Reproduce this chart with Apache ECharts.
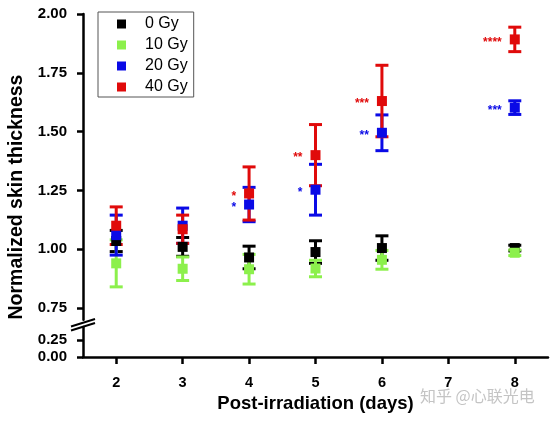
<!DOCTYPE html>
<html>
<head>
<meta charset="utf-8">
<script src="https://cdn.jsdelivr.net/npm/echarts@6/dist/echarts.min.js"></script>
<style>
html,body{margin:0;padding:0;background:#fff;}
#chart{width:554px;height:421px;}
</style>
</head>
<body>
<div id="chart"></div>
<script>
// ---- data ----
const days = [2, 3, 4, 5, 6, 8];
const xTicks = [2, 3, 4, 5, 6, 7, 8];
const yTicksUpper = [0.75, 1.00, 1.25, 1.50, 1.75, 2.00];
const yTicksLower = [0.00, 0.25];

const gy0Mean  = [1.035, 1.010, 0.965, 0.988, 1.005, 1.005];
const gy0Err   = [0.045, 0.040, 0.048, 0.048, 0.052, 0.012];
const gy10Mean = [0.940, 0.917, 0.915, 0.918, 0.955, 0.985];
const gy10Err  = [0.100, 0.050, 0.063, 0.035, 0.040, 0.012];
const gy20Mean = [1.060, 1.100, 1.190, 1.253, 1.495, 1.602];
const gy20Err  = [0.085, 0.075, 0.073, 0.108, 0.076, 0.029];
const gy40Mean = [1.100, 1.085, 1.237, 1.400, 1.630, 1.892];
const gy40Err  = [0.080, 0.060, 0.113, 0.130, 0.152, 0.052];
const gy20Sig  = ['', '', '*', '*', '**', '***'];
const gy40Sig  = ['', '', '*', '**', '***', '****'];

const groups = [
  {name: '0 Gy',  mean: gy0Mean,  err: gy0Err,  sig: null,    color: '#000000'},
  {name: '10 Gy', mean: gy10Mean, err: gy10Err, sig: null,    color: '#8cf04c'},
  {name: '20 Gy', mean: gy20Mean, err: gy20Err, sig: gy20Sig, color: '#0a0ae6'},
  {name: '40 Gy', mean: gy40Mean, err: gy40Err, sig: gy40Sig, color: '#e00a0a'}
];

const FONT = '"Liberation Sans", Arial, Helvetica, sans-serif';

function errRenderer(color) {
  return function (params, api) {
    const x = api.value(0), m = api.value(1), e = api.value(2);
    const top = api.coord([x, m + e]);
    const bot = api.coord([x, m - e]);
    const hw = 6.5;
    const st = {stroke: color, lineWidth: 3};
    return {
      type: 'group',
      children: [
        {type: 'line', shape: {x1: top[0], y1: top[1], x2: bot[0], y2: bot[1]}, style: st},
        {type: 'line', shape: {x1: top[0] - hw, y1: top[1], x2: top[0] + hw, y2: top[1]}, style: st},
        {type: 'line', shape: {x1: bot[0] - hw, y1: bot[1], x2: bot[0] + hw, y2: bot[1]}, style: st}
      ]
    };
  };
}

const series = [];
groups.forEach(g => {
  series.push({
    name: g.name + ' err',
    type: 'custom',
    xAxisIndex: 0, yAxisIndex: 0,
    renderItem: errRenderer(g.color),
    encode: {x: 0, y: 1},
    data: days.map((d, i) => [d, g.mean[i], g.err[i]]),
    clip: false,
    silent: true
  });
  series.push({
    name: g.name,
    type: 'scatter',
    xAxisIndex: 0, yAxisIndex: 0,
    symbol: 'rect',
    symbolSize: 10,
    itemStyle: {color: g.color, opacity: 1},
    label: {
      show: !!g.sig,
      position: 'left',
      distance: 8,
      offset: [0, 3],
      color: g.color,
      fontSize: 12,
      fontWeight: 'bold',
      fontFamily: FONT,
      formatter: p => (g.sig ? g.sig[p.dataIndex] : '')
    },
    data: days.map((d, i) => [d, g.mean[i]])
  });
});

const axisLineStyle = {color: '#000', width: 2.5};
const chart = echarts.init(document.getElementById('chart'), null, {renderer: 'canvas'});
chart.setOption({
  animation: false,
  backgroundColor: '#fff',
  grid: [
    {left: 83, right: 6, top: 14, height: 305.8},
    {left: 83, right: 6, top: 327, bottom: 64}
  ],
  xAxis: [
    {gridIndex: 0, type: 'value', min: 1.5, max: 8.5, show: false},
    {
      gridIndex: 1, type: 'value', min: 1.5, max: 8.5,
      axisLine: {show: true, lineStyle: axisLineStyle},
      axisTick: {show: true, length: 7, lineStyle: {width: 2.5, color: '#000'}, customValues: xTicks},
      axisLabel: {show: true, margin: 18, customValues: xTicks, color: '#000', fontSize: 14.5, fontWeight: 'bold', fontFamily: FONT},
      splitLine: {show: false},
      name: 'Post-irradiation (days)',
      nameLocation: 'middle',
      nameGap: 37,
      nameTextStyle: {color: '#000', fontSize: 18.5, fontWeight: 'bold', fontFamily: FONT}
    }
  ],
  yAxis: [
    {
      gridIndex: 0, type: 'value', min: 0.70, max: 2.0,
      axisLine: {show: true, lineStyle: axisLineStyle},
      axisTick: {show: true, length: 6, lineStyle: {width: 2.5, color: '#000'}, customValues: yTicksUpper},
      axisLabel: {show: true, margin: 16, customValues: yTicksUpper, color: '#000', fontSize: 15, fontWeight: 'bold', fontFamily: FONT,
                  formatter: v => v.toFixed(2)},
      splitLine: {show: false}
    },
    {
      gridIndex: 1, type: 'value', min: 0, max: 0.44,
      axisLine: {show: true, lineStyle: axisLineStyle},
      axisTick: {show: true, length: 6, lineStyle: {width: 2.5, color: '#000'}, customValues: yTicksLower},
      axisLabel: {show: true, margin: 16, customValues: yTicksLower, color: '#000', fontSize: 15, fontWeight: 'bold', fontFamily: FONT,
                  formatter: v => v.toFixed(2), lineHeight: 14},
      splitLine: {show: false}
    }
  ],
  legend: {
    orient: 'vertical',
    left: 98, top: 12,
    padding: [4, 6, 2, 19],
    itemGap: 5,
    itemWidth: 9, itemHeight: 9,
    borderColor: '#555', borderWidth: 1,
    textStyle: {color: '#000', fontSize: 16, lineHeight: 16, fontFamily: FONT, padding: [0, 0, 0, 14]},
    data: groups.map(g => ({name: g.name, icon: 'rect', itemStyle: {color: g.color}}))
  },
  graphic: [
    {type: 'text', x: 17, y: 197, rotation: Math.PI / 2,
     style: {text: 'Normalized skin thickness', fill: '#000', font: 'bold 19.5px ' + FONT, align: 'center', verticalAlign: 'middle'}},
    {type: 'line', shape: {x1: 71, y1: 326.5, x2: 95, y2: 319}, style: {stroke: '#000', lineWidth: 2}},
    {type: 'line', shape: {x1: 71, y1: 330.5, x2: 95, y2: 323}, style: {stroke: '#000', lineWidth: 2}},
    {type: 'text', x: 420, y: 396,
     style: {text: '知乎 @心联光电', fill: '#c4c4c4', font: '16px "Noto Sans CJK SC", sans-serif', verticalAlign: 'middle'}}
  ],
  series: series
});
</script>
</body>
</html>
